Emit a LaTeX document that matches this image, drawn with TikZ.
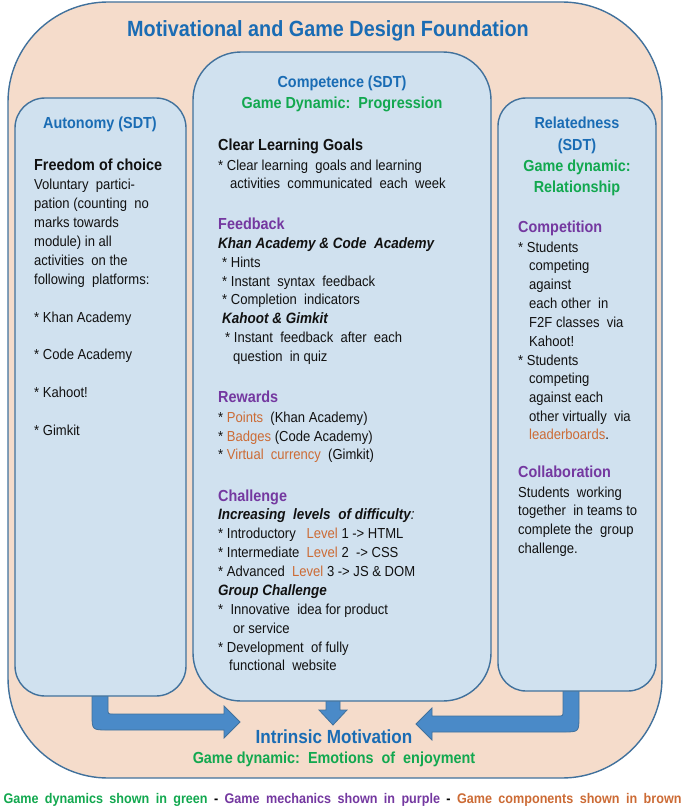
\documentclass[tikz,border=0pt]{standalone}
\usepackage{fontspec}
\setmainfont{Liberation Sans}[FakeStretch=0.9]
\definecolor{bord}{HTML}{41719C}
\definecolor{peach}{HTML}{F5DCCB}
\definecolor{boxfill}{HTML}{D0E1EF}
\definecolor{arrowfill}{HTML}{4A8AC8}
\definecolor{tblue}{HTML}{1A6CB4}
\definecolor{tgreen}{HTML}{12A84F}
\definecolor{tpurple}{HTML}{7438A0}
\definecolor{brn}{HTML}{CC6B35}
\definecolor{tblack}{HTML}{111111}
\tikzset{
  outerbox/.style={draw=bord, fill=peach, line width=1.4pt},
  inbox/.style={draw=bord, fill=boxfill, line width=1.4pt},
  bigarrow/.style={draw=bord, fill=arrowfill, line width=0.8pt},
  body/.style={anchor=base west, inner sep=0pt, text=tblack, font=\fontsize{14.5}{17}\selectfont},
  hd/.style={anchor=base west, inner sep=0pt, text=tblack, font=\bfseries\fontsize{16}{19}\selectfont},
  bi/.style={anchor=base west, inner sep=0pt, text=tblack, font=\bfseries\itshape\fontsize{15}{18}\selectfont},
  chd/.style={anchor=base, inner sep=0pt, font=\bfseries\fontsize{16}{19}\selectfont},
}
\begin{document}
\begin{tikzpicture}[x=1pt,y=-1pt]
\useasboundingbox (0,0) rectangle (685,808);
% outer
\draw[outerbox, rounded corners=100pt] (8,2) rectangle (662,778);
% arrows
\filldraw[bigarrow] (92,690) -- (92,714) .. controls (92,730) .. (108,730) -- (224,730) -- (224,738) -- (240,722) -- (224,706) -- (224,714) -- (113,714) .. controls (108,714) .. (108,709) -- (108,690) -- cycle;
\filldraw[bigarrow] (579,686) -- (579,716) .. controls (579,732) .. (563,732) -- (432,732) -- (432,740) -- (416,724) -- (432,708) -- (432,716) -- (558,716) .. controls (563,716) .. (563,711) -- (563,686) -- cycle;
\filldraw[bigarrow] (326,695) -- (326,710) -- (319,710) -- (333,725) -- (347,710) -- (340,710) -- (340,695) -- cycle;
% inner boxes
\draw[inbox, rounded corners=30pt] (15,98) rectangle (186,696);
\draw[inbox, rounded corners=48pt] (193,52) rectangle (491,701);
\draw[inbox, rounded corners=28pt] (498,98) rectangle (656,691);
% title
\node[anchor=base, inner sep=0pt, text=tblue, font=\bfseries\fontsize{22}{26}\selectfont] (title) at (328,37) {Motivational and Game Design Foundation};
% left box
\node[chd, text=tblue] (auth) at (100,128) {Autonomy (SDT)};
\node[hd] (a1) at (34,170) {Freedom of choice};
\node[body] (a2) at (34,189) {Voluntary\ \ partici-};
\node[body] (a3) at (34,208) {pation (counting\ \ no};
\node[body] (a4) at (34,227) {marks towards};
\node[body] (a5) at (34,246) {module) in all};
\node[body] (a6) at (34,265) {activities\ \ on the};
\node[body] (a7) at (34,284) {following\ \ platforms:};
\node[body] (a8) at (34,322) {* Khan Academy};
\node[body] (a9) at (34,359) {* Code Academy};
\node[body] (a10) at (34,397) {* Kahoot!};
\node[body] (a11) at (34,435) {* Gimkit};
% middle box
\node[chd, text=tblue] (comph) at (342,88) {Competence (SDT)};
\node[chd, text=tgreen] (compg) at (342,108) {Game Dynamic:\ \ Progression};
\node[hd] (m1) at (218,150) {Clear Learning Goals};
\node[body] (m2) at (218,170) {* Clear learning\ \ goals and learning};
\node[body] (m3) at (230,188) {activities\ \ communicated\ \ each\ \ week};
\node[hd, text=tpurple] (m4) at (218,229) {Feedback};
\node[bi] (m5) at (218,248) {Khan Academy \& Code\ \ Academy};
\node[body] (m6) at (222,267) {* Hints};
\node[body] (m7) at (222,286) {* Instant\ \ syntax\ \ feedback};
\node[body] (m8) at (222,304) {* Completion\ \ indicators};
\node[bi] (m9) at (222,323) {Kahoot \& Gimkit};
\node[body] (m10) at (225,342) {* Instant\ \ feedback\ \ after\ \ each};
\node[body] (m11) at (233,361) {question\ \ in quiz};
\node[hd, text=tpurple] (m12) at (218,402) {Rewards};
\node[body] (m13) at (218,422) {* \textcolor{brn}{Points}\ \ (Khan Academy)};
\node[body] (m14) at (218,441) {* \textcolor{brn}{Badges} (Code Academy)};
\node[body] (m15) at (218,459) {* \textcolor{brn}{Virtual\ \ currency}\ \ (Gimkit)};
\node[hd, text=tpurple] (m16) at (218,501) {Challenge};
\node[bi] (m17) at (218,519) {Increasing\ \ levels\ \ of difficulty{\normalfont\itshape :}};
\node[body] (m18) at (218,538) {* Introductory\ \ \ \textcolor{brn}{Level} 1 -> HTML};
\node[body] (m19) at (218,557) {* Intermediate\ \ \textcolor{brn}{Level} 2\ \ -> CSS};
\node[body] (m20) at (218,576) {* Advanced\ \ \textcolor{brn}{Level} 3 -> JS \& DOM};
\node[bi] (m21) at (218,595) {Group Challenge};
\node[body] (m22) at (218,614) {*\ \ Innovative\ \ idea for product};
\node[body] (m23) at (233,633) {or service};
\node[body] (m24) at (218,652) {* Development\ \ of fully};
\node[body] (m25) at (229,670) {functional\ \ website};
% right box
\node[chd, text=tblue] (relh) at (577,128) {Relatedness};
\node[chd, text=tblue] (relh2) at (577,150) {(SDT)};
\node[chd, text=tgreen] (relg) at (577,171) {Game dynamic:};
\node[chd, text=tgreen] (relg2) at (577,192) {Relationship};
\node[hd, text=tpurple] (r1) at (518,232) {Competition};
\node[body] (r2) at (518,252) {* Students};
\node[body] (r3) at (529,270) {competing};
\node[body] (r4) at (529,289) {against};
\node[body] (r5) at (529,308) {each other\ \ in};
\node[body] (r6) at (529,327) {F2F classes\ \ via};
\node[body] (r7) at (529,346) {Kahoot!};
\node[body] (r8) at (518,365) {* Students};
\node[body] (r9) at (529,383) {competing};
\node[body] (r10) at (529,402) {against each};
\node[body] (r11) at (529,421) {other virtually\ \ via};
\node[body] (r12) at (529,439) {\textcolor{brn}{leaderboards}.};
\node[hd, text=tpurple] (r13) at (518,477) {Collaboration};
\node[body] (r14) at (518,497) {Students\ \ working};
\node[body] (r15) at (518,515) {together\ \ in teams to};
\node[body] (r16) at (518,534) {complete the\ \ group};
\node[body] (r17) at (518,553) {challenge.};
% bottom
\node[anchor=base, inner sep=0pt, text=tblue, font=\bfseries\fontsize{19}{22}\selectfont] (im) at (334,743) {Intrinsic Motivation};
\node[anchor=base, inner sep=0pt, text=tgreen, font=\bfseries\fontsize{16}{19}\selectfont] (imd) at (334,763) {Game dynamic:\ \ Emotions\ \ of\ \ enjoyment};
\node[anchor=base, inner sep=0pt, font=\bfseries\fontsize{14}{17}\selectfont] (legend) at (342.5,803) {\makebox[678pt][s]{\textcolor{tgreen}{Game dynamics shown in green} - \textcolor{tpurple}{Game mechanics shown in purple} - \textcolor{brn}{Game components shown in brown}}};
\end{tikzpicture}
\end{document}
